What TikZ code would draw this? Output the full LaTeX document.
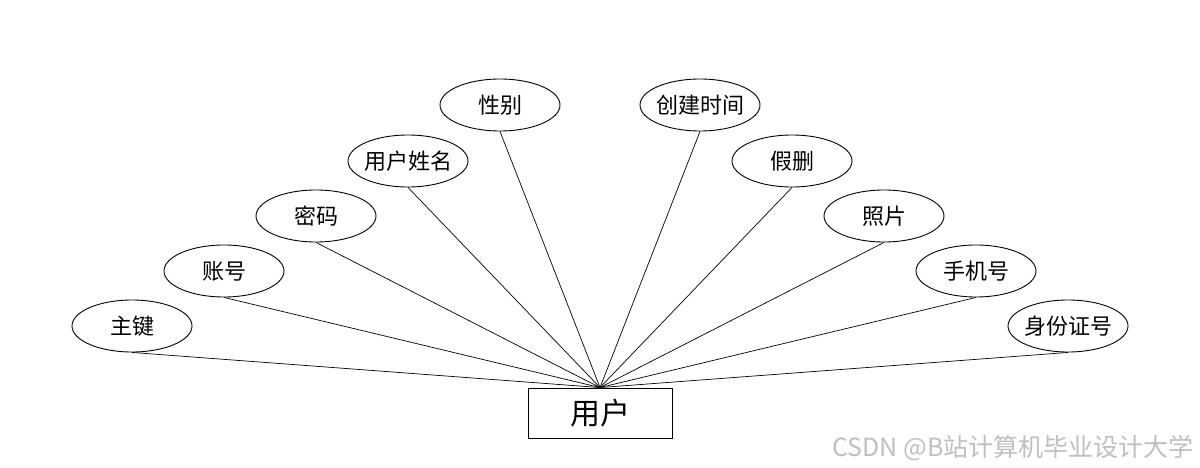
\documentclass[tikz,border=0pt]{standalone}
\usepackage{fontspec}
\setmainfont{Noto Sans CJK SC}
\usetikzlibrary{shapes.geometric}
\begin{document}
\begin{tikzpicture}[x=1pt,y=-1pt,
  attr/.style={ellipse,draw,line width=0.9pt,minimum width=120pt,minimum height=52pt,inner xsep=-12pt,inner ysep=0pt,font=\fontsize{22}{22}\selectfont},
  ent/.style={rectangle,draw,line width=0.9pt,minimum width=144pt,minimum height=50pt,inner sep=0pt,font=\fontsize{30}{30}\selectfont},
  conn/.style={line width=0.7pt}]
\useasboundingbox (0,0) rectangle (1200,468);
\fill[white] (0,0) rectangle (1200,468);
\node[ent] (user) at (600,413) {用户};
\node[attr] (a1) at (132,326) {主键};
\node[attr] (a2) at (224,271) {账号};
\node[attr] (a3) at (316,216) {密码};
\node[attr] (a4) at (408,161) {用户姓名};
\node[attr] (a5) at (500,105) {性别};
\node[attr] (a6) at (700,105) {创建时间};
\node[attr] (a7) at (792,161) {假删};
\node[attr] (a8) at (884,216) {照片};
\node[attr] (a9) at (976,271) {手机号};
\node[attr] (a10) at (1068,326) {身份证号};
\foreach \n in {a1,a2,a3,a4,a5,a6,a7,a8,a9,a10}
  \draw[conn] (\n.south) -- (user.north);
\node[anchor=east,text=black!25,font=\fontsize{25}{25}\selectfont] (wm) at (1197,448) {CSDN @B站计算机毕业设计大学};
\end{tikzpicture}
\end{document}
